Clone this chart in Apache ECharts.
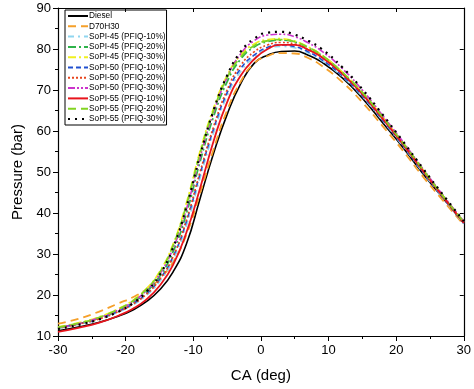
<!DOCTYPE html>
<html><head><meta charset="utf-8">
<script src="https://cdn.jsdelivr.net/npm/echarts@6/dist/echarts.min.js"></script>
<style>html,body{margin:0;padding:0;background:#fff}#c{width:474px;height:389px}</style>
</head><body><div id="c"></div>
<script>
const ca = [-30,-27,-24,-21,-19,-17,-15,-13,-11,-9,-7,-5,-3,-1,1,3,5,7,9,12,15,18,21,24,27,30];
const names = ['Diesel','D70H30','SoPI-45 (PFIQ-10%)','SoPI-45 (PFIQ-20%)','SoPI-45 (PFIQ-30%)','SoPI-50 (PFIQ-10%)','SoPI-50 (PFIQ-20%)','SoPI-50 (PFIQ-30%)','SoPI-55 (PFIQ-10%)','SoPI-55 (PFIQ-20%)','SoPI-55 (PFIQ-30%)'];
const diesel   = [11.3,12.2,13.3,14.9,16.3,18.3,21.2,25.6,32.5,43.5,54.5,64.0,71.5,76.5,78.5,79.4,79.5,78.5,76.8,73.0,68.0,62.0,56.0,49.5,43.5,37.5];
const d70h30   = [13.0,14.2,15.9,18.0,19.4,21.3,23.9,28.0,34.8,44.8,55.5,65.0,72.0,76.5,78.3,79.0,78.9,77.8,75.9,72.0,67.0,61.2,55.2,48.8,42.9,37.1];
const s45_10   = [11.8,12.8,14.0,15.9,17.5,19.8,23.2,28.5,37.0,48.5,59.5,68.5,74.5,78.0,80.0,80.6,80.3,79.0,77.2,73.3,68.4,62.5,56.3,49.8,43.5,37.4];
const s45_20   = [12.0,13.0,14.3,16.3,18.1,20.7,24.5,30.5,40.0,52.5,63.5,72.0,77.5,80.5,81.8,82.2,81.7,80.3,78.4,74.3,69.3,63.3,57.0,50.4,44.0,37.8];
const s45_30   = [12.2,13.2,14.6,16.7,18.6,21.4,25.6,32.3,42.5,55.0,65.5,73.5,78.5,81.2,82.3,82.5,81.9,80.5,78.5,74.4,69.4,63.4,57.1,50.5,44.0,37.8];
const s50_10   = [12.0,13.0,14.2,16.1,17.8,20.2,23.8,29.3,38.0,49.5,60.5,69.3,75.2,78.5,80.4,81.0,80.6,79.3,77.4,73.5,68.6,62.7,56.5,50.0,43.6,37.5];
const s50_20   = [11.9,12.9,14.1,16.0,17.7,20.1,23.7,29.3,38.3,50.0,61.0,70.0,76.0,79.3,81.0,81.6,81.2,79.9,78.0,74.0,69.0,63.0,56.8,50.2,43.8,37.6];
const s50_30   = [12.0,13.0,14.4,16.4,18.3,21.0,25.0,31.3,41.0,53.5,64.5,73.0,78.8,82.0,83.4,83.6,83.0,81.5,79.5,75.3,70.0,63.8,57.4,50.7,44.2,37.9];
const s55_10   = [11.0,12.0,13.2,15.0,16.6,18.8,22.2,27.3,35.3,46.0,57.5,67.0,73.5,77.5,80.0,81.0,81.0,79.8,78.0,74.0,69.0,63.0,56.8,50.2,43.8,37.6];
const s55_20   = [12.1,13.1,14.5,16.6,18.5,21.3,25.4,32.0,42.0,54.5,65.0,73.0,78.0,80.8,82.0,82.3,81.8,80.4,78.5,74.4,69.4,63.4,57.1,50.5,44.0,37.8];
const s55_30   = [11.7,12.7,14.0,16.0,17.9,20.7,24.8,31.5,41.5,54.0,65.0,73.5,79.3,82.5,84.0,84.2,83.5,82.0,80.0,75.6,70.2,64.0,57.5,50.8,44.3,38.0];
const values = [diesel,d70h30,s45_10,s45_20,s45_30,s50_10,s50_20,s50_30,s55_10,s55_20,s55_30];
const xTicks = [-30,-20,-10,0,10,20,30];
const yTicks = [10,20,30,40,50,60,70,80,90];

const styles = [
  {color:'#000000', type:'solid', width:1.6},
  {color:'#f5a02a', type:[8,5], width:1.8},
  {color:'#8fd6f0', type:[6,4,2,4], width:1.6},
  {color:'#2eb34a', type:[8,3,2,3], width:1.8},
  {color:'#f0f020', type:[8,3,2,3], width:1.8},
  {color:'#2050d0', type:[5,3], width:1.6},
  {color:'#e8441c', type:[2,2], width:1.6},
  {color:'#cc33cc', type:[7,2,2,2,2,2], width:1.6},
  {color:'#e8141c', type:'solid', width:1.8},
  {color:'#82d422', type:[8,5], width:1.8},
  {color:'#000000', type:[2,5], width:2.2}
];

const series = names.map((n,i)=>({
  name:n, type:'line', smooth:true, symbol:'none', showSymbol:false, xAxisIndex:0, yAxisIndex:0,
  data: ca.map((x,j)=>[x, values[i][j]]),
  lineStyle:{color:styles[i].color, type:styles[i].type, width:styles[i].width},
  itemStyle:{color:styles[i].color}
}));

const fontF = 'Liberation Sans, Arial, sans-serif';
const chart = echarts.init(document.getElementById('c'));
chart.setOption({
  animation:false,
  backgroundColor:'#fff',
  grid:{left:58, right:8, top:8, bottom:53},
  legend:{
    data:names, orient:'vertical', left:65, top:10,
    itemWidth:20, itemHeight:7, itemGap:2.3,
    padding:[2,1,2,2], borderColor:'#000', borderWidth:1,
    itemStyle:{opacity:0},
    textStyle:{fontSize:8.3, lineHeight:8, fontFamily:fontF, color:'#000', padding:[0,0,0,-4]}
  },
  xAxis:[
    {type:'value', min:-30, max:30, interval:10, position:'bottom',
     name:'CA (deg)', nameLocation:'middle', nameGap:32,
     nameTextStyle:{fontSize:15, fontFamily:fontF, color:'#000'},
     axisLine:{onZero:false, lineStyle:{color:'#000', width:1.2}},
     axisTick:{show:true, length:5, lineStyle:{color:'#000'}},
     minorTick:{show:true, splitNumber:2, length:3, lineStyle:{color:'#000'}},
     axisLabel:{fontSize:13, fontFamily:fontF, color:'#000', margin:8,
       formatter:v=>xTicks.includes(v)?String(v):''},
     splitLine:{show:false}},
    {type:'value', min:-30, max:30, interval:10, position:'top',
     axisLine:{onZero:false, lineStyle:{color:'#000', width:1.2}},
     axisTick:{show:true, inside:true, length:4, lineStyle:{color:'#000'}},
     minorTick:{show:false}, axisLabel:{show:false}, splitLine:{show:false}}
  ],
  yAxis:[
    {type:'value', min:10, max:90, interval:10, position:'left',
     name:'Pressure (bar)', nameLocation:'middle', nameGap:32, nameRotate:90,
     nameTextStyle:{fontSize:15, fontFamily:fontF, color:'#000'},
     axisLine:{show:true, onZero:false, lineStyle:{color:'#000', width:1.2}},
     axisTick:{show:true, length:5, lineStyle:{color:'#000'}},
     minorTick:{show:true, splitNumber:2, length:3, lineStyle:{color:'#000'}},
     axisLabel:{fontSize:13, fontFamily:fontF, color:'#000', margin:7,
       formatter:v=>yTicks.includes(v)?String(v):''},
     splitLine:{show:false}},
    {type:'value', min:10, max:90, interval:10, position:'right',
     axisLine:{show:true, onZero:false, lineStyle:{color:'#000', width:1.2}},
     axisTick:{show:true, inside:true, length:4, lineStyle:{color:'#000'}},
     minorTick:{show:false}, axisLabel:{show:false}, splitLine:{show:false}}
  ],
  series: series
});
</script></body></html>
